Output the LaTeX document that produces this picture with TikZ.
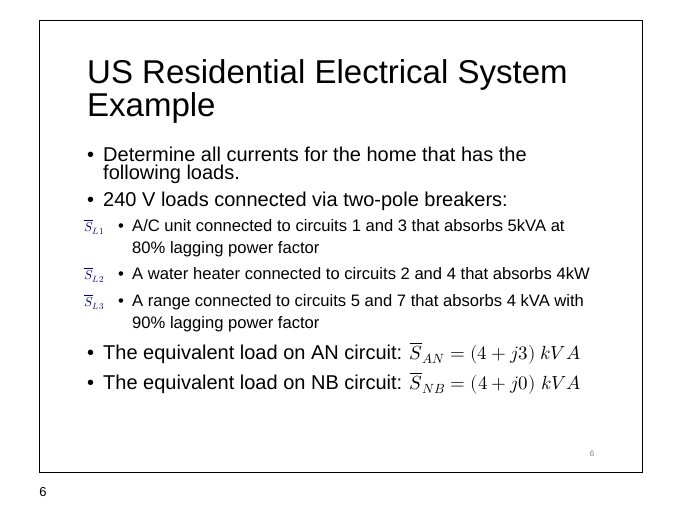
\documentclass[tikz,border=0pt]{standalone}
\usepackage{fontspec}
\setmainfont{Liberation Sans}
\usepackage{unicode-math}
\setmathfont{Latin Modern Math}
\begin{document}
\begin{tikzpicture}[x=1pt,y=-1pt,
  title/.style={anchor=base west,inner sep=0,font=\fontsize{33}{34}\selectfont},
  lvl1/.style={anchor=base west,inner sep=0,font=\fontsize{20}{20}\selectfont},
  lvl2/.style={anchor=base west,inner sep=0,font=\fontsize{16.6}{16}\selectfont},
  lab/.style={anchor=base west,inner sep=0,text=blue!60!black,font=\fontsize{13}{13}\selectfont}]
\useasboundingbox (0,0) rectangle (700,528);
\fill[white] (0,0) rectangle (700,528);
\draw[line width=0.8pt] (39,20) rectangle (642,472);
\node[title] (t1) at (87,83) {US Residential Electrical System};
\node[title] (t2) at (87,116) {Example};
\node[lvl1] (d1) at (87,161) {•};
\node[lvl1] (b1) at (103,161) {Determine all currents for the home that has the};
\node[lvl1] (b1b) at (103,179) {following loads.};
\node[lvl1] (d2) at (87,206) {•};
\node[lvl1] (b2) at (103,206) {240 V loads connected via two-pole breakers:};
\node[lab] (l1) at (84,231) {$\overline{S}_{L1}$};
\node[lvl2] (e1) at (118,231) {•};
\node[lvl2] (s1) at (132,231) {A/C unit connected to circuits 1 and 3 that absorbs 5kVA at};
\node[lvl2] (s1b) at (132,253) {80\% lagging power factor};
\node[lab] (l2) at (84,279) {$\overline{S}_{L2}$};
\node[lvl2] (e2) at (118,279) {•};
\node[lvl2] (s2) at (132,279) {A water heater connected to circuits 2 and 4 that absorbs 4kW};
\node[lab] (l3) at (84,306) {$\overline{S}_{L3}$};
\node[lvl2] (e3) at (118,306) {•};
\node[lvl2] (s3) at (132,306) {A range connected to circuits 5 and 7 that absorbs 4 kVA with};
\node[lvl2] (s3b) at (132,328) {90\% lagging power factor};
\node[lvl1] (d3) at (87,359) {•};
\node[lvl1] (b3) at (103,359) {The equivalent load on AN circuit: \fontsize{19}{19}\selectfont$\overline{S}_{AN}=(4+j3)\ kVA$};
\node[lvl1] (d4) at (87,389) {•};
\node[lvl1] (b4) at (103,389) {The equivalent load on NB circuit: \fontsize{19}{19}\selectfont$\overline{S}_{NB}=(4+j0)\ kVA$};
\node[anchor=base,inner sep=0,text=gray,font=\fontsize{8}{8}\selectfont] (pn) at (592,456) {6};
\node[anchor=base,inner sep=0,font=\fontsize{13}{13}\selectfont] (pn2) at (43,496) {6};
\end{tikzpicture}
\end{document}
